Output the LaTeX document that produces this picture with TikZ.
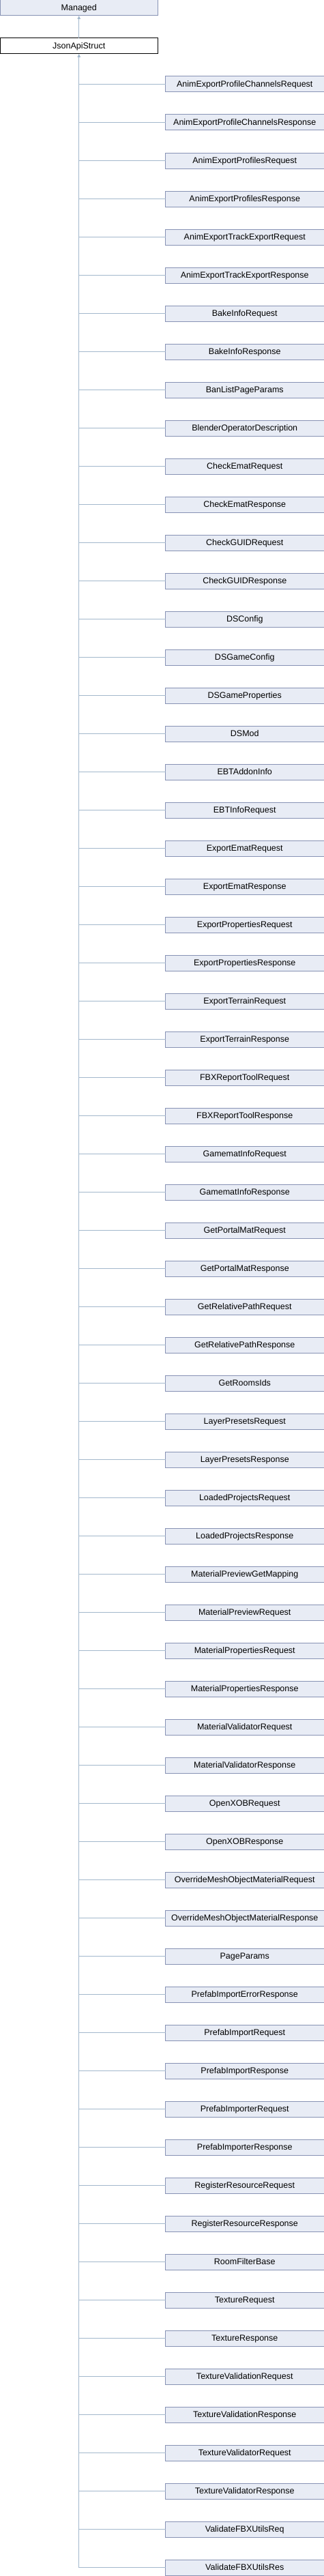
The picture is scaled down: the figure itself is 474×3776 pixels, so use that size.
\documentclass[tikz,border=0pt]{standalone}
\usepackage{fontspec}
\setmainfont{Liberation Sans}
\usetikzlibrary{arrows.meta}
\definecolor{boxfill}{HTML}{E8ECF5}
\definecolor{boxdraw}{HTML}{8792B4}
\definecolor{linkcol}{HTML}{A3B8CC}
\tikzset{
  basebox/.style={draw=boxdraw, fill=boxfill, line width=1pt, inner sep=0pt, outer sep=0pt,
    font=\fontsize{12.5pt}{14pt}\selectfont, text=black, text height=9.9pt, text depth=1.5pt},
  mainbox/.style={basebox, draw=black, fill=white},
  childbox/.style={basebox, minimum width=232.5pt, minimum height=23pt},
  link/.style={draw=linkcol, line width=1pt},
  inherit/.style={link, -{Triangle[width=4.5pt,length=5pt]}, shorten >=0pt},
}
\begin{document}
\begin{tikzpicture}[x=1pt,y=-1pt]
\useasboundingbox (0,0) rectangle (474,3776);
\node[basebox, minimum width=230.5pt, minimum height=24pt] (managed) at (115.75,11) {Managed};
\node[mainbox, minimum width=230.5pt, minimum height=23pt] (json) at (115.75,67.5) {JsonApiStruct};
\draw[inherit] (json.north) -- (managed.south);
\foreach \nm [count=\i from 0] in {
AnimExportProfileChannelsRequest,
AnimExportProfileChannelsResponse,
AnimExportProfilesRequest,
AnimExportProfilesResponse,
AnimExportTrackExportRequest,
AnimExportTrackExportResponse,
BakeInfoRequest,
BakeInfoResponse,
BanListPageParams,
BlenderOperatorDescription,
CheckEmatRequest,
CheckEmatResponse,
CheckGUIDRequest,
CheckGUIDResponse,
DSConfig,
DSGameConfig,
DSGameProperties,
DSMod,
EBTAddonInfo,
EBTInfoRequest,
ExportEmatRequest,
ExportEmatResponse,
ExportPropertiesRequest,
ExportPropertiesResponse,
ExportTerrainRequest,
ExportTerrainResponse,
FBXReportToolRequest,
FBXReportToolResponse,
GamematInfoRequest,
GamematInfoResponse,
GetPortalMatRequest,
GetPortalMatResponse,
GetRelativePathRequest,
GetRelativePathResponse,
GetRoomsIds,
LayerPresetsRequest,
LayerPresetsResponse,
LoadedProjectsRequest,
LoadedProjectsResponse,
MaterialPreviewGetMapping,
MaterialPreviewRequest,
MaterialPropertiesRequest,
MaterialPropertiesResponse,
MaterialValidatorRequest,
MaterialValidatorResponse,
OpenXOBRequest,
OpenXOBResponse,
OverrideMeshObjectMaterialRequest,
OverrideMeshObjectMaterialResponse,
PageParams,
PrefabImportErrorResponse,
PrefabImportRequest,
PrefabImportResponse,
PrefabImporterRequest,
PrefabImporterResponse,
RegisterResourceRequest,
RegisterResourceResponse,
RoomFilterBase,
TextureRequest,
TextureResponse,
TextureValidationRequest,
TextureValidationResponse,
TextureValidatorRequest,
TextureValidatorResponse,
ValidateFBXUtilsReq,
ValidateFBXUtilsRes}{
  \node[childbox] (c\i) at (358.75,{123.5+56*\i}) {\nm};
  \draw[link] (c\i.west) -- (c\i.west -| json.south);
}
\coordinate (trunkend) at (c65.west -| json.south);
\draw[inherit] (trunkend) -- (json.south);
\end{tikzpicture}
\end{document}
